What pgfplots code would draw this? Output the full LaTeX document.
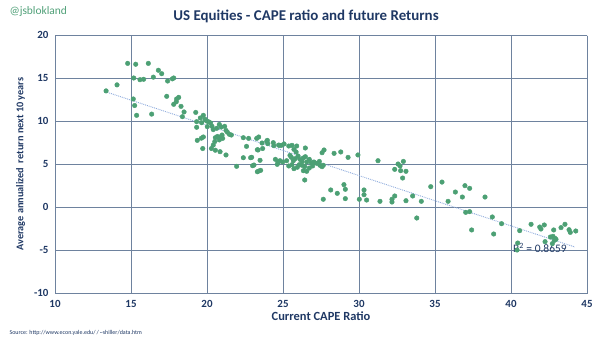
\documentclass[border=0pt]{standalone}
\usepackage{pgfplots}
\pgfplotsset{compat=1.18}
\usepackage{fontspec}
\setmainfont{Carlito}
\definecolor{navy}{RGB}{31,56,100}
\definecolor{dotgreen}{RGB}{76,160,116}
\definecolor{gridc}{RGB}{110,130,158}
\definecolor{trend}{RGB}{140,170,220}
\definecolor{tw}{RGB}{80,160,120}
\begin{document}
\begin{tikzpicture}
\useasboundingbox (0,0) rectangle (605bp,341bp);
\node[anchor=west, text=tw, font=\fontsize{11.5}{13}\selectfont] at (6bp,329bp) {@jsblokland};
\node[text=navy, font=\fontsize{15}{17}\selectfont\bfseries] at (306bp,325bp) {US Equities - CAPE ratio and future Returns};
\node[anchor=west, text=navy, font=\fontsize{6}{7}\selectfont] at (6bp,8bp) {Source: http://www.econ.yale.edu/\,/\,\textasciitilde shiller/data.htm};
\begin{axis}[
  at={(55bp,48bp)}, anchor=south west,
  scale only axis, width=532bp, height=258bp,
  xmin=10, xmax=45, ymin=-10, ymax=20,
  xtick={10,15,...,45}, ytick={-10,-5,...,20},
  major tick length=0pt,
  axis line style={draw=none},
  grid=major,
  grid style={dash pattern=on 0.45pt off 0.55pt, gridc, line width=0.45pt},
  extra y ticks={0}, extra y tick labels={},
  extra x ticks={10}, extra x tick labels={},
  extra tick style={grid style={solid, gridc, line width=0.7pt}},
  ticklabel style={font=\fontsize{11}{13}\selectfont\bfseries, text=navy},
  /pgf/number format/assume math mode=true,
  xticklabel style={yshift=-4bp},
  yticklabel style={xshift=-3bp},
  xlabel={Current CAPE Ratio},
  xlabel style={font=\fontsize{12.5}{14}\selectfont\bfseries, text=navy, yshift=3bp},
  ylabel={Average annualized\ \ return next 10 years},
  ylabel style={font=\fontsize{10.3}{12}\selectfont\bfseries, text=navy, yshift=2bp},
  clip=false,
]
\addplot[trend, densely dotted, line width=0.9pt] coordinates {(13.33,13.4) (44.2,-4.65)};
\addplot[only marks, mark=*, color=dotgreen, mark size=2.3bp] coordinates {
(14.78,16.7) (15.31,16.6) (16.14,16.7) (16.8,15.9) (17.02,15.5) (15.18,15.0) (15.59,14.8) (15.83,14.85)
(16.47,15.1) (17.41,14.65) (17.72,14.9) (17.81,15.0) (13.36,13.5) (14.08,14.2) (15.15,12.56) (15.24,11.8)
(15.37,10.66) (16.36,10.8) (17.35,12.87) (18.0,12.56) (18.14,12.75) (17.98,12.24) (17.81,11.94) (18.29,11.7)
(18.49,11.05) (18.38,10.5) (19.26,11.0) (19.56,10.35) (19.76,10.66) (19.32,9.92) (19.65,9.8) (19.32,9.27)
(19.87,10.2) (19.98,10.0) (20.11,9.9) (20.24,9.77) (20.02,9.34) (20.33,9.38) (20.41,9.0) (20.64,9.15)
(20.81,9.6) (20.94,9.3) (21.16,9.38) (21.25,8.9) (21.34,8.7) (21.47,8.45) (21.6,8.37) (20.55,8.06)
(20.68,8.2) (20.86,8.14) (20.99,8.37) (21.03,7.98) (20.81,7.8) (20.51,7.6) (20.41,7.2) (19.36,7.75)
(19.63,8.0) (19.76,8.14) (19.72,6.8) (20.29,6.8) (20.55,6.6) (20.86,6.43) (21.25,6.05) (22.39,5.73)
(21.95,4.73) (22.87,5.73) (23.0,4.8) (23.49,5.43) (23.4,4.18) (23.53,4.26) (23.31,4.1) (22.39,8.06)
(22.6,7.05) (22.74,7.98) (23.27,7.98) (23.4,8.14) (23.31,6.66) (23.66,6.8) (23.62,7.44) (23.97,7.75)
(24.0,7.36) (24.4,7.13) (24.71,7.2) (24.62,4.96) (24.71,5.27) (23.36,6.63) (23.09,4.88) (22.94,5.78)
(23.93,7.64) (24.36,7.48) (24.76,7.17) (25.07,7.33) (24.89,7.17) (25.38,7.09) (25.59,7.17) (25.9,7.09)
(25.72,6.7) (25.86,6.4) (26.47,6.86) (24.5,5.54) (24.67,5.23) (24.8,5.38) (24.98,5.23) (25.24,5.38)
(25.46,6.0) (25.55,5.77) (25.68,5.38) (25.81,5.62) (25.99,5.93) (26.12,5.54) (26.25,5.3) (26.34,5.7)
(26.47,5.85) (26.56,5.23) (26.73,5.54) (26.86,5.15) (27.04,5.23) (27.22,5.08) (27.39,5.3) (27.43,4.85)
(27.57,4.69) (27.65,4.85) (26.95,4.77) (26.73,4.53) (26.43,4.69) (26.25,4.85) (26.07,4.92) (25.94,4.62)
(25.72,4.46) (25.59,4.92) (25.38,4.77) (26.34,4.22) (26.56,4.15) (26.43,3.14) (27.57,6.31) (27.7,6.63)
(28.36,6.24) (28.8,6.4) (29.28,5.77) (28.14,1.98) (28.57,1.59) (29.1,0.97) (27.65,0.9) (29.1,2.06)
(29.93,6.05) (31.25,5.38) (32.57,5.0) (32.7,4.77) (32.92,5.3) (32.35,4.38) (32.74,4.22) (33.09,4.15)
(32.87,3.37) (29.01,2.6) (30.02,0.9) (30.33,1.98) (30.33,1.43) (30.5,0.81) (31.38,0.66) (32.17,0.9)
(32.17,0.58) (32.35,1.28) (33.09,0.73) (33.53,1.28) (34.1,0.66) (33.8,-1.28) (34.72,2.36) (35.46,2.9)
(35.86,0.66) (36.34,1.74) (36.8,1.16) (36.97,2.48) (37.28,2.17) (38.29,1.16) (37.02,-0.62) (37.28,-0.54)
(37.41,-2.67) (38.77,-1.16) (38.86,-3.14) (39.38,-1.94) (40.57,-2.75) (40.44,-4.19) (41.32,-2.01) (41.89,-2.33)
(41.97,-2.56) (42.19,-2.09) (42.81,-2.67) (43.29,-2.4) (43.55,-2.01) (43.82,-2.64) (43.9,-2.95) (44.26,-2.79)
(42.59,-3.49) (42.76,-3.41) (42.89,-3.64) (42.24,-4.03) (42.72,-4.26) (42.85,-3.88) (42.96,-3.76) (40.4,-5.0)
};
\node[text=navy, font=\fontsize{11.5}{13}\selectfont] at (axis cs:41.9,-4.77) {R\textsuperscript{2} = 0.8659};
\end{axis}
\end{tikzpicture}
\end{document}
